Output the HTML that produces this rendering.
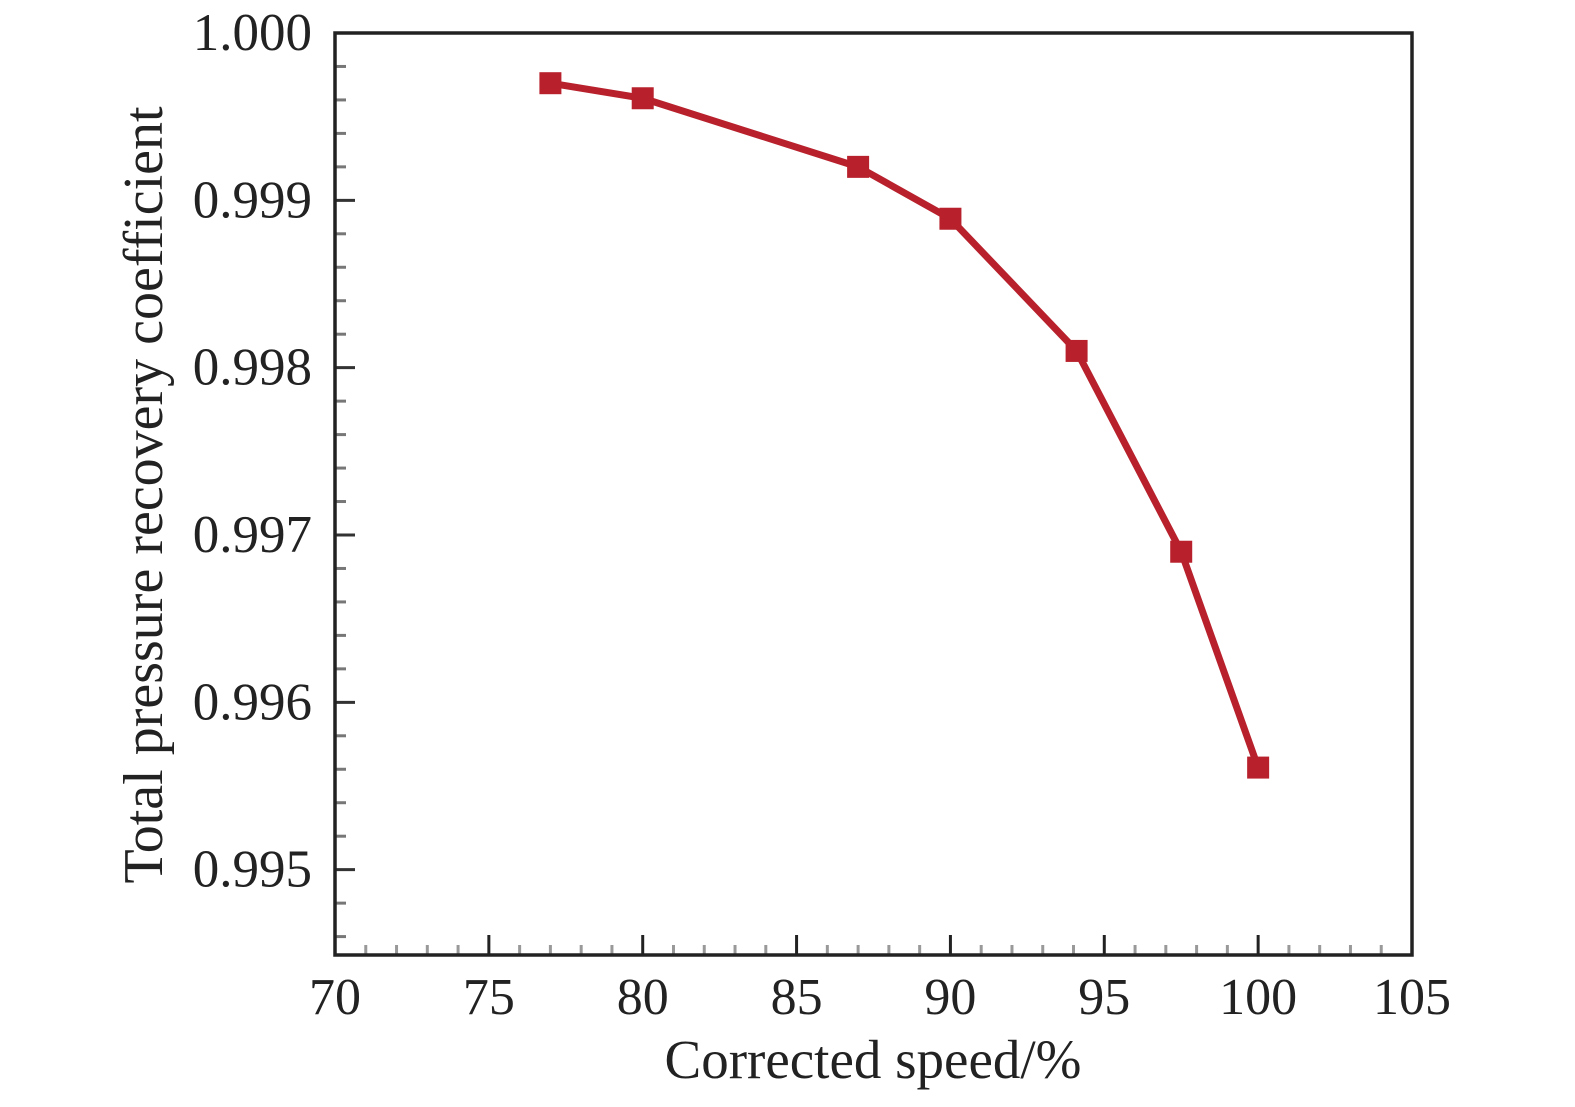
<!DOCTYPE html>
<html><head><meta charset="utf-8"><style>
body{margin:0;background:#fff}
svg text{font-family:"Liberation Serif",serif;fill:#222}
</style></head><body>
<svg id="chart" width="1575" height="1102" viewBox="0 0 1575 1102" xmlns="http://www.w3.org/2000/svg">
<g id="ticks"></g>
<rect x="335" y="33" width="1077" height="922" fill="none" stroke="#222" stroke-width="3.5"/>
<g id="labels"></g>
<g id="series"></g>
<text x="873" y="1078" font-size="55" text-anchor="middle">Corrected speed/%</text>
<text transform="translate(162,495) rotate(-90)" font-size="56" text-anchor="middle">Total pressure recovery coefficient</text>
</svg>
<script>
const speeds=[77,80,87,90,94.1,97.5,100];
const recovery=[0.99970,0.99961,0.99920,0.99889,0.99810,0.99690,0.99561];
const xTicks=[70,75,80,85,90,95,100,105];
const yTicks=[0.995,0.996,0.997,0.998,0.999,1.000];
const NS='http://www.w3.org/2000/svg';
const X0=335,X1=1412,Y0=955,Y1=33;
const xmin=70,xmax=105,ymin=0.99449,ymax=1.000;
function sx(v){return X0+(v-xmin)/(xmax-xmin)*(X1-X0);}
function sy(v){return Y0-(v-ymin)/(ymax-ymin)*(Y0-Y1);}
function mk(t,a,p){const e=document.createElementNS(NS,t);for(const k in a)e.setAttribute(k,a[k]);p.appendChild(e);return e;}
const tg=document.getElementById('ticks'),lg=document.getElementById('labels'),sg=document.getElementById('series');
for(let v=70;v<=105;v+=1){
 const major=v%5===0;const x=sx(v);
 const l=mk('line',{x1:x,x2:x,y1:Y0,y2:Y0-(major?20:10),stroke:major?'#222':'#999','stroke-width':3},tg);
 
 
}
for(let i=0;i<=27;i++){
 const v=0.9946+i*0.0002;if(v>1.00001)break;
 const major=Math.abs(Math.round(v*1000)-v*1000)<1e-6;const y=sy(v);
 const l=mk('line',{x1:X0,x2:X0+(major?20:11),y1:y,y2:y,stroke:major?'#333':'#777','stroke-width':3},tg);
 
 
}
xTicks.forEach(v=>{const t=mk('text',{x:sx(v),y:1014,'font-size':52,'text-anchor':'middle'},lg);t.textContent=v;
 
 });
yTicks.forEach(v=>{const t=mk('text',{x:312,y:sy(v)+17,'font-size':53,'text-anchor':'end'},lg);t.textContent=v.toFixed(3);
 
 });
const pl=mk('polyline',{points:speeds.map((s,i)=>sx(s)+','+sy(recovery[i])).join(' '),fill:'none',stroke:'#b8212c','stroke-width':7,'stroke-linejoin':'round'},sg);


speeds.forEach((s,i)=>{const r=mk('rect',{x:sx(s)-11,y:sy(recovery[i])-11,width:22,height:22,fill:'#b8212c'},sg);
 
 });
</script>
</body></html>
